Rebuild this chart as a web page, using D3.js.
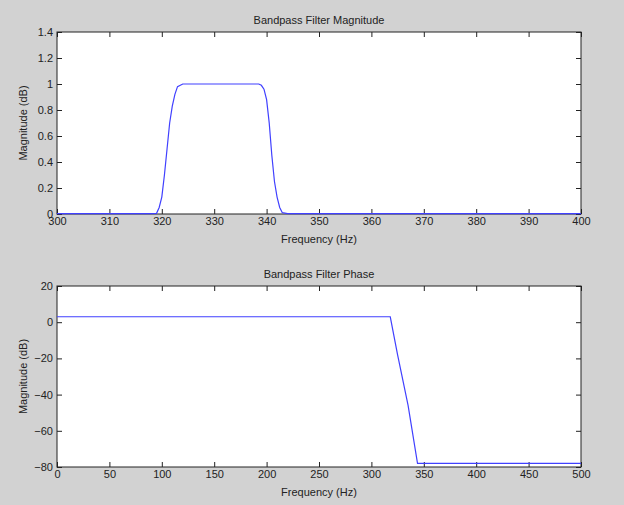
<!DOCTYPE html>
<html>
<head>
<meta charset="utf-8">
<script src="https://cdn.jsdelivr.net/npm/d3@7"></script>
<style>
  body { margin: 0; background: #d2d2d2; }
  svg { display: block; font-family: Arial, "Liberation Sans", sans-serif; }
</style>
</head>
<body>
<svg id="chart" width="624" height="505"></svg>
<script>
// magnitude response
const magFreq = [300, 318, 319, 319.5, 320, 320.5, 321, 321.5, 322, 322.5, 323, 324, 330, 338.5, 339, 339.5, 340, 340.5, 341, 341.5, 342, 342.5, 343, 344, 400];
const magValue = [0.003, 0.003, 0.005, 0.05, 0.13, 0.3, 0.5, 0.7, 0.83, 0.92, 0.98, 1, 1, 1, 0.99, 0.96, 0.88, 0.7, 0.45, 0.25, 0.13, 0.05, 0.01, 0.003, 0.003];
// phase response
const phaseFreq = [0, 318, 325, 335, 344, 500];
const phaseValue = [3, 3, -18, -46, -78, -78];

const magXTicks = [300, 310, 320, 330, 340, 350, 360, 370, 380, 390, 400];
const magYTicks = [0, 0.2, 0.4, 0.6, 0.8, 1, 1.2, 1.4];
const phaseXTicks = [0, 50, 100, 150, 200, 250, 300, 350, 400, 450, 500];
const phaseYTicks = [-80, -60, -40, -20, 0, 20];

const svg = d3.select("#chart");

function panel(opts) {
  const x = d3.scaleLinear().domain(opts.xDomain).range([opts.left, opts.right]);
  const y = d3.scaleLinear().domain(opts.yDomain).range([opts.bottom, opts.top]);
  const g = svg.append("g");
  const w = opts.right - opts.left, h = opts.bottom - opts.top;

  g.append("rect").attr("x", opts.left).attr("y", opts.top)
    .attr("width", w).attr("height", h).attr("fill", "#fff");

  const style = sel => {
    sel.select(".domain").remove();
    sel.selectAll("line").attr("stroke", "#222");
    sel.selectAll("text").attr("fill", "#222").style("font-size", "11px");
  };

  g.append("g").attr("transform", `translate(0,${opts.bottom})`)
    .call(d3.axisBottom(x).tickValues(opts.xTicks).tickSize(-5).tickPadding(3).tickFormat(d3.format("d")))
    .call(style);
  g.append("g").attr("transform", `translate(0,${opts.top})`)
    .call(d3.axisTop(x).tickValues(opts.xTicks).tickSize(-5).tickFormat(""))
    .call(style);
  g.append("g").attr("transform", `translate(${opts.left},0)`)
    .call(d3.axisLeft(y).tickValues(opts.yTicks).tickSize(-5).tickPadding(4).tickFormat(d => d3.format("")(d)))
    .call(style);
  g.append("g").attr("transform", `translate(${opts.right},0)`)
    .call(d3.axisRight(y).tickValues(opts.yTicks).tickSize(-5).tickFormat(""))
    .call(style);

  g.append("rect").attr("x", opts.left).attr("y", opts.top)
    .attr("width", w).attr("height", h).attr("fill", "none").attr("stroke", "#222");

  const line = d3.line().x((d, i) => x(opts.xs[i])).y(d => y(d));
  g.append("path").datum(opts.ys).attr("d", line)
    .attr("fill", "none").attr("stroke", "#4040ff").attr("stroke-width", 1.2);

  g.append("text").attr("x", (opts.left + opts.right) / 2).attr("y", opts.top - 8)
    .attr("text-anchor", "middle").style("font-size", "11px").attr("fill", "#222").text(opts.title);
  g.append("text").attr("x", (opts.left + opts.right) / 2).attr("y", opts.bottom + 29)
    .attr("text-anchor", "middle").style("font-size", "11px").attr("fill", "#222").text("Frequency (Hz)");
  g.append("text").attr("transform", `translate(${opts.left - 30},${(opts.top + opts.bottom) / 2}) rotate(-90)`)
    .attr("text-anchor", "middle").style("font-size", "11px").attr("fill", "#222").text("Magnitude (dB)");
}

panel({
  left: 57, right: 581, top: 32, bottom: 214,
  xDomain: [300, 400], yDomain: [0, 1.4],
  xTicks: magXTicks, yTicks: magYTicks,
  xs: magFreq, ys: magValue, title: "Bandpass Filter Magnitude"
});
panel({
  left: 57, right: 581, top: 286, bottom: 467,
  xDomain: [0, 500], yDomain: [-80, 20],
  xTicks: phaseXTicks, yTicks: phaseYTicks,
  xs: phaseFreq, ys: phaseValue, title: "Bandpass Filter Phase"
});
</script>
</body>
</html>
